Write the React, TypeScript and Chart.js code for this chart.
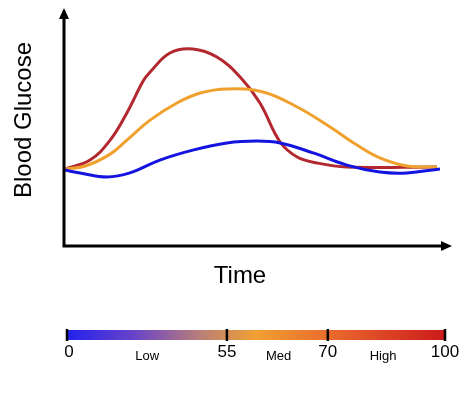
import React, { useEffect, useRef } from "react";
import { Chart, registerables } from "chart.js";
Chart.register(...registerables);

// Time (0-100) and blood glucose (0-100) readings per curve
const lowTime = [0.26, 4.1, 11.1, 17.0, 24.7, 33.2, 42.0, 49.7, 55.7, 64.2, 72.9, 81.4, 88.4, 96.9];
const lowGlucose = [31.9, 30.7, 29.0, 30.7, 36.1, 40.3, 43.3, 44.1, 43.3, 39.1, 34.0, 31.1, 30.7, 32.4];

const medTime = [0.26, 5.5, 11.9, 16.2, 22.2, 29.1, 35.1, 42.0, 51.3, 60.1, 68.6, 75.5, 81.4, 88.4, 96.1];
const medGlucose = [32.4, 33.6, 38.6, 44.5, 52.9, 60.1, 64.3, 66.0, 64.7, 58.4, 50.0, 42.4, 37.0, 33.6, 33.2];

const highTime = [0.26, 6.7, 11.9, 16.2, 20.4, 22.2, 27.3, 33.2, 39.4, 45.4, 50.5, 55.7, 60.1, 65.2, 72.9, 96.1];
const highGlucose = [32.4, 36.1, 44.5, 55.9, 69.3, 73.1, 81.1, 82.8, 79.4, 71.0, 60.1, 43.7, 37.4, 34.9, 33.2, 33.2];

// Colour scale legend
const scaleTicks = ["0", "55", "70", "100"];
const scaleTickPos = [0, 0.423, 0.69, 1];
const scaleBands = ["Low", "Med", "High"];
const scaleBandPos = [0.212, 0.56, 0.836];

const FONT = "'Liberation Sans', Arial, sans-serif";

const toPts = (xs: number[], ys: number[]) => xs.map((x, i) => ({ x, y: ys[i] }));

const decorations = {
  id: "decorations",
  afterDraw(chart: any) {
    const { ctx, chartArea } = chart;
    const { left, right, top, bottom } = chartArea;
    ctx.save();
    // axes
    ctx.strokeStyle = "#000";
    ctx.fillStyle = "#000";
    ctx.lineWidth = 3;
    ctx.beginPath();
    ctx.moveTo(left, top + 8);
    ctx.lineTo(left, bottom);
    ctx.lineTo(right - 8, bottom);
    ctx.stroke();
    // arrow heads
    ctx.beginPath();
    ctx.moveTo(left, top);
    ctx.lineTo(left - 5, top + 11);
    ctx.lineTo(left + 5, top + 11);
    ctx.closePath();
    ctx.fill();
    ctx.beginPath();
    ctx.moveTo(right, bottom);
    ctx.lineTo(right - 11, bottom - 5);
    ctx.lineTo(right - 11, bottom + 5);
    ctx.closePath();
    ctx.fill();

    // axis titles
    ctx.font = `24px ${FONT}`;
    ctx.textAlign = "center";
    ctx.textBaseline = "middle";
    ctx.fillText("Time", 240, 276);
    ctx.save();
    ctx.translate(24, 120);
    ctx.rotate(-Math.PI / 2);
    ctx.fillText("Blood Glucose", 0, 0);
    ctx.restore();

    // colour bar
    const bx0 = 67, bx1 = 445, by = 330, bh = 10;
    const g = ctx.createLinearGradient(bx0, 0, bx1, 0);
    g.addColorStop(0, "#2222ee");
    g.addColorStop(0.18, "#6a44c8");
    g.addColorStop(0.35, "#b87e7a");
    g.addColorStop(0.5, "#f1a032");
    g.addColorStop(0.72, "#e8642c");
    g.addColorStop(1, "#cc1a1a");
    ctx.fillStyle = g;
    ctx.fillRect(bx0, by, bx1 - bx0, bh);
    ctx.strokeStyle = "#000";
    ctx.lineWidth = 2.5;
    ctx.fillStyle = "#000";
    ctx.font = `17px ${FONT}`;
    scaleTickPos.forEach((p, i) => {
      const x = bx0 + p * (bx1 - bx0);
      ctx.beginPath();
      ctx.moveTo(x, by - 1);
      ctx.lineTo(x, by + bh + 1);
      ctx.stroke();
      ctx.fillText(scaleTicks[i], x + (i === 0 ? 2 : 0), 352);
    });
    ctx.font = `13px ${FONT}`;
    scaleBandPos.forEach((p, i) => {
      ctx.fillText(scaleBands[i], bx0 + p * (bx1 - bx0), 356);
    });
    ctx.restore();
  },
};

export default function App() {
  const ref = useRef<HTMLCanvasElement>(null);
  useEffect(() => {
    const line = (data: any, color: string) => ({
      data,
      borderColor: color,
      borderWidth: 3,
      pointRadius: 0,
      fill: false,
      tension: 0.4,
    });
    const chart = new Chart(ref.current!, {
      type: "line",
      data: {
        datasets: [
          line(toPts(lowTime, lowGlucose), "#1414e0"),
          line(toPts(medTime, medGlucose), "#f0a02c"),
          line(toPts(highTime, highGlucose), "#b3272f"),
        ],
      },
      options: {
        responsive: false,
        animation: false,
        layout: { padding: { left: 64, right: 22, top: 8, bottom: 148 } },
        plugins: { legend: { display: false }, tooltip: { enabled: false } },
        scales: {
          x: { type: "linear", min: 0, max: 100, display: false },
          y: { type: "linear", min: 0, max: 100, display: false },
        },
      },
      plugins: [decorations],
    });
    return () => chart.destroy();
  }, []);
  return (
    <div style={{ position: "fixed", left: 0, top: 0, width: 474, height: 394, background: "#fff" }}>
      <canvas ref={ref} width={474} height={394} />
    </div>
  );
}
